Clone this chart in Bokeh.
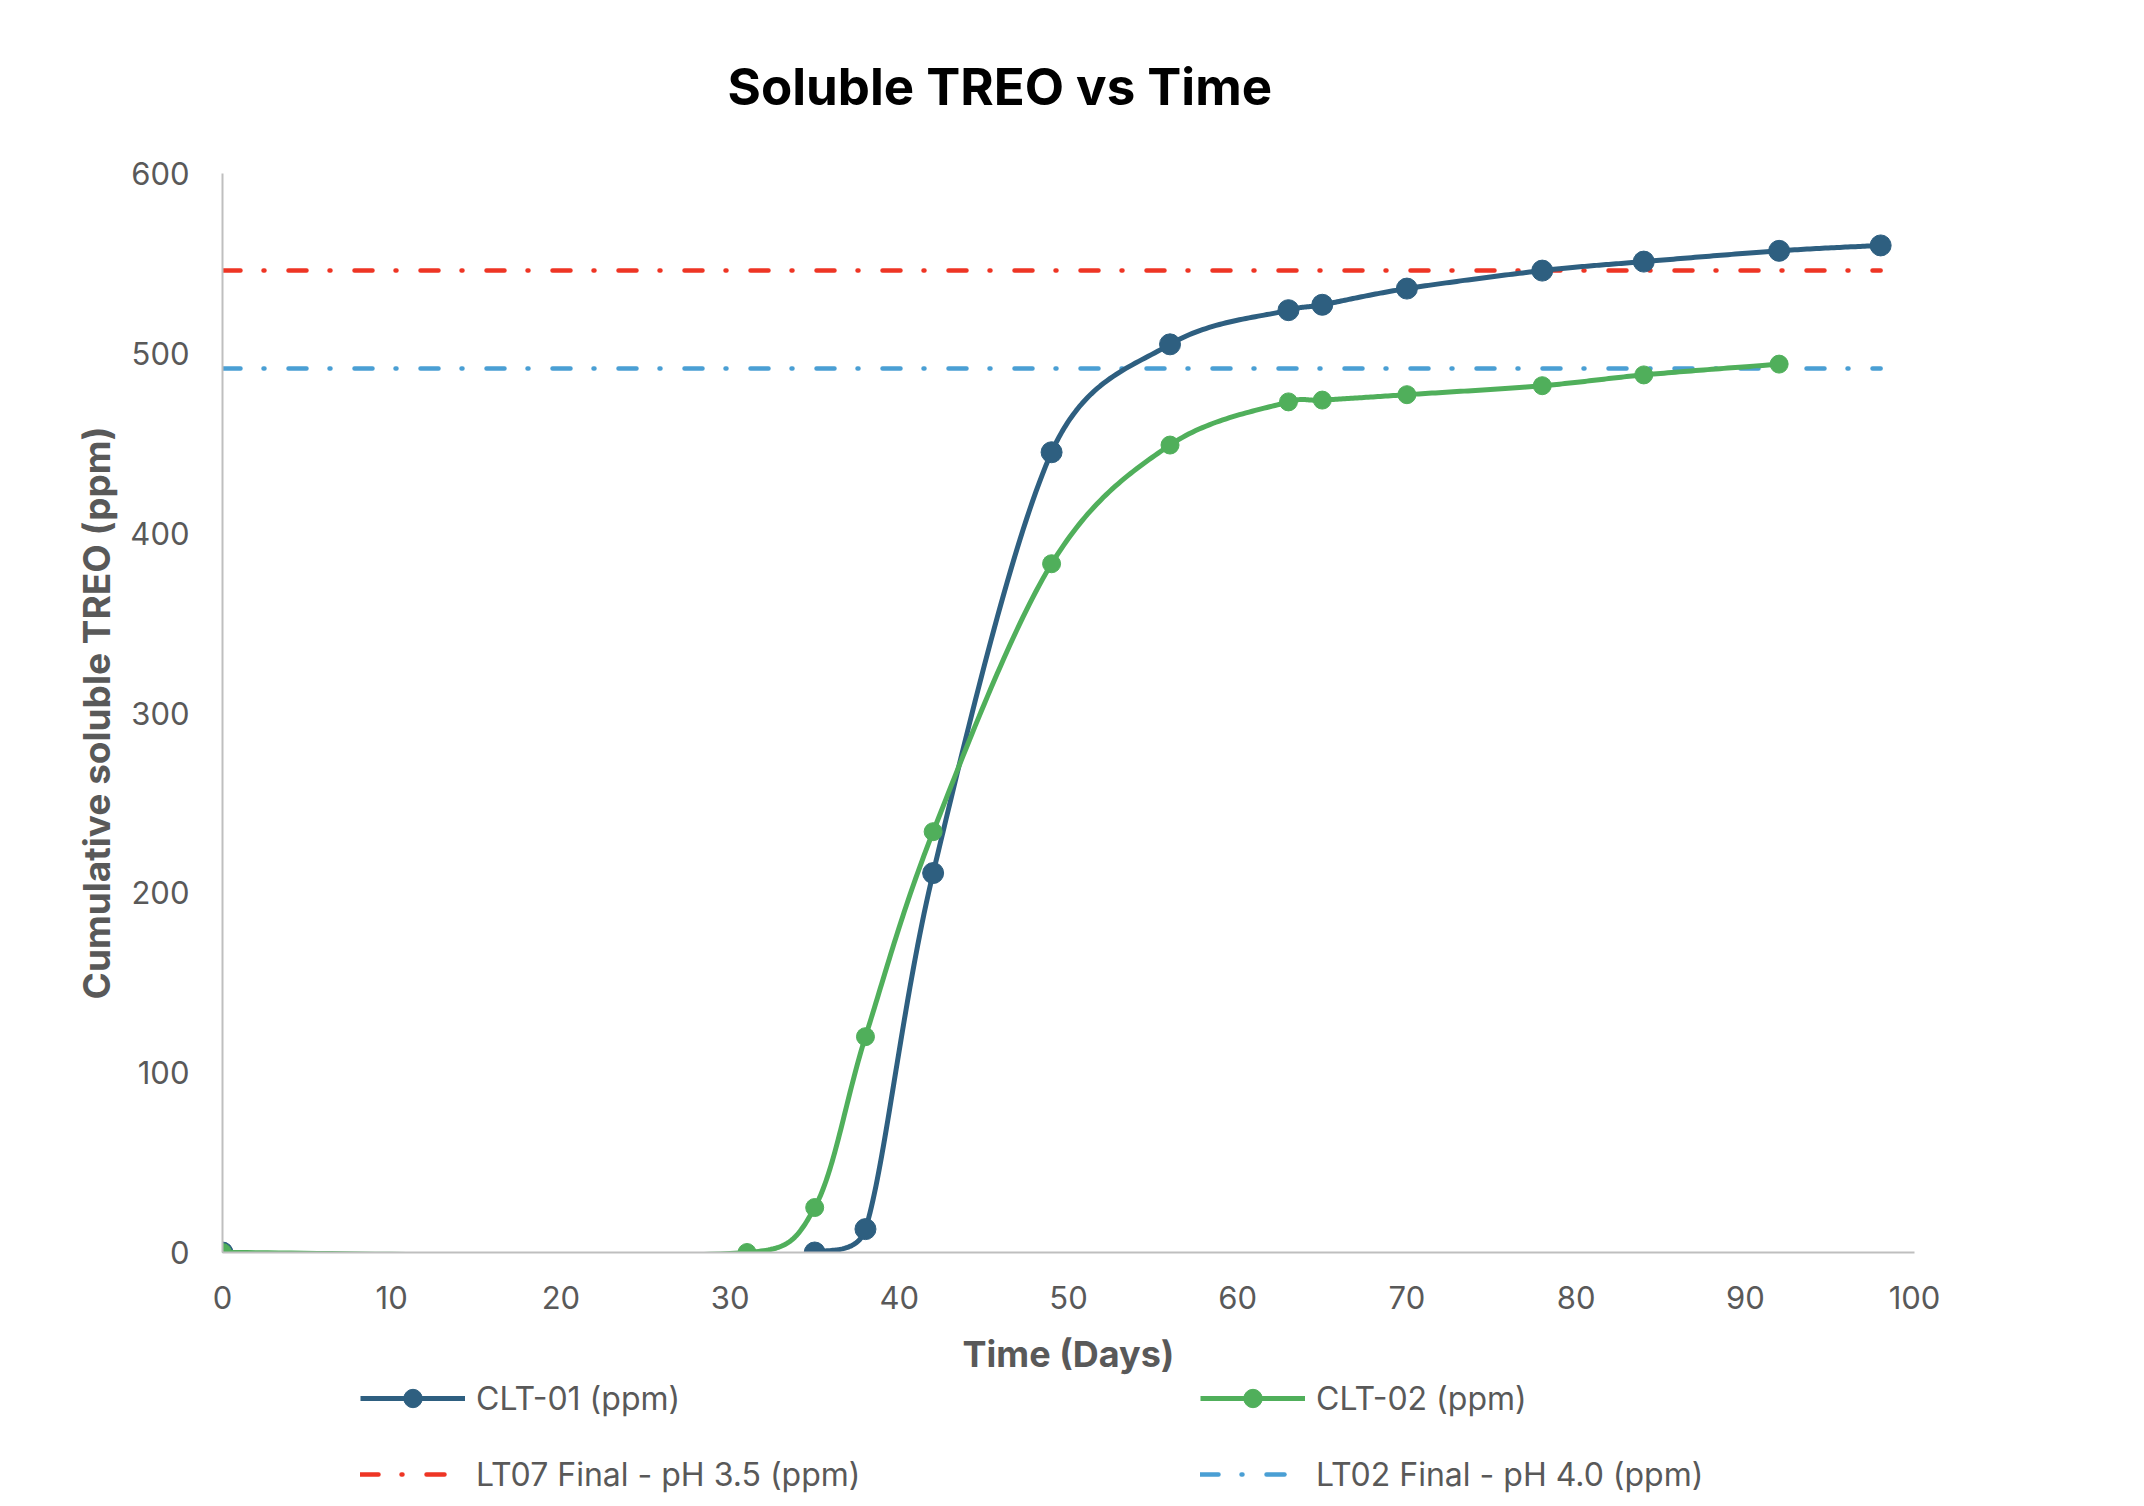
import numpy as np
from bokeh.plotting import figure
from bokeh.layouts import column
from bokeh.models import Range1d, Legend, LegendItem
from bokeh.embed import file_html
from bokeh.resources import INLINE

# Cumulative soluble TREO (ppm) per column test
days_clt01 = [0, 35, 38, 42, 49, 56, 63, 65, 70, 78, 84, 92, 98]
treo_clt01 = [0, 0, 13, 211, 445, 505, 524, 527, 536, 546, 551, 557, 560]
days_clt02 = [0, 31, 35, 38, 42, 49, 56, 63, 65, 70, 78, 84, 92]
treo_clt02 = [0, 0, 25, 120, 234, 383, 449, 473, 474, 477, 482, 488, 494]

# Final values of the reference leach tests
ref_span_days = [0, 98]
lt07_final = 546
lt02_final = 491.5

x_ticks = list(range(0, 101, 10))
y_ticks = list(range(0, 601, 100))

BLUE = "#2E5F80"
GREEN = "#50AF5B"
RED = "#EE3524"
LIGHT_BLUE = "#4A9FD4"
GREY_TEXT = "#595959"
FONT = "Inter"
DASH_DOT = "18 23 1 24"

W, H = 2144, 1506
MAIN_H = 1380                      # chart; the key sits in a strip below it
B_LEFT, B_RIGHT, B_TOP, B_BOTTOM = 222, 230, 171, 128
PX_X = (W - B_LEFT - B_RIGHT) / 100.0
PX_Y = (MAIN_H - B_TOP - B_BOTTOM) / 600.0


def smooth_curve(xs, ys, samples=40):
    """Spreadsheet-style smoothed line: cubic Bezier segments whose control
    handles are limited to half the segment length (computed in pixels)."""
    pts = np.column_stack([np.asarray(xs, float) * PX_X, np.asarray(ys, float) * PX_Y])
    n = len(pts)
    out = [pts[0]]
    f = 1.0 / 6.0
    t = np.linspace(0, 1, samples)[1:, None]
    for i in range(n - 1):
        p0 = pts[i - 1] if i > 0 else pts[i]
        p1 = pts[i]
        p2 = pts[i + 1]
        p3 = pts[i + 2] if i + 2 < n else pts[i + 1]
        d12 = np.linalg.norm(p2 - p1)
        d02 = np.linalg.norm(p2 - p0)
        d13 = np.linalg.norm(p3 - p1)
        f1 = f if d02 / 6 < d12 / 2 else (d12 / (2 * d02) if d02 > 0 else 0)
        f2 = f if d13 / 6 < d12 / 2 else (d12 / (2 * d13) if d13 > 0 else 0)
        c1 = p1 + f1 * (p2 - p0)
        c2 = p2 - f2 * (p3 - p1)
        seg = ((1 - t) ** 3) * p1 + 3 * ((1 - t) ** 2) * t * c1 + 3 * (1 - t) * (t ** 2) * c2 + (t ** 3) * p2
        out.extend(seg)
    out = np.array(out)
    return out[:, 0] / PX_X, out[:, 1] / PX_Y


p = figure(
    width=W, height=MAIN_H,
    x_range=Range1d(0, 100), y_range=Range1d(0, 600),
    output_backend="svg", toolbar_location=None,
    min_border_left=B_LEFT, min_border_right=B_RIGHT,
    min_border_top=B_TOP, min_border_bottom=B_BOTTOM,
    background_fill_color="white", border_fill_color="white",
)
p.outline_line_color = None
p.xgrid.visible = False
p.ygrid.visible = False

# title
p.title.text = "Soluble TREO vs Time"
p.title.align = "left"
p.title.vertical_align = "top"
p.title.offset = 505
p.title.standoff = 110
p.title.text_font = FONT
p.title.text_font_size = "51px"
p.title.text_font_style = "bold"
p.title.text_color = "black"

for ax in (p.xaxis[0], p.yaxis[0]):
    ax.axis_line_color = "#BFBFBF"
    ax.axis_line_width = 2
    ax.major_tick_line_color = None
    ax.minor_tick_line_color = None
    ax.major_label_text_font = FONT
    ax.major_label_text_font_size = "31px"
    ax.major_label_text_color = GREY_TEXT
    ax.axis_label_text_font = FONT
    ax.axis_label_text_font_style = "bold"
    ax.axis_label_text_color = GREY_TEXT

p.xaxis.ticker = x_ticks
p.yaxis.ticker = y_ticks
p.xaxis.axis_label = "Time (Days)"
p.yaxis.axis_label = "Cumulative soluble TREO (ppm)"
p.xaxis.axis_label_text_font_size = "36px"
p.yaxis.axis_label_text_font_size = "37px"
p.xaxis.major_label_standoff = 27
p.xaxis.axis_label_standoff = 20
p.yaxis.major_label_standoff = 27
p.yaxis.axis_label_standoff = 8

# reference lines (dash-dot)
p.line(ref_span_days, [lt07_final, lt07_final], line_color=RED, line_width=4.5,
       line_dash=DASH_DOT, line_cap="round")
p.line(ref_span_days, [lt02_final, lt02_final], line_color=LIGHT_BLUE, line_width=4.5,
       line_dash=DASH_DOT, line_cap="round")

# CLT-01: the smoothed line starts once leaching begins (day 35)
sx1, sy1 = smooth_curve(days_clt01[1:], treo_clt01[1:])
p.line(sx1, sy1, line_color=BLUE, line_width=5, line_join="round", line_cap="round")
p.scatter(days_clt01, treo_clt01, size=21, fill_color=BLUE, line_color=BLUE)

sx2, sy2 = smooth_curve(days_clt02, treo_clt02)
p.line(sx2, sy2, line_color=GREEN, line_width=5, line_join="round", line_cap="round")
p.scatter(days_clt02, treo_clt02, size=18, fill_color=GREEN, line_color=GREEN)

# key strip under the chart; its sample glyphs sit outside the visible range
key = figure(
    width=W, height=H - MAIN_H,
    x_range=Range1d(0, 1), y_range=Range1d(0, 1),
    x_axis_location=None, y_axis_location=None,
    output_backend="svg", toolbar_location=None, min_border=0,
    background_fill_color="white", border_fill_color="white",
)
key.outline_line_color = None
key.xgrid.visible = False
key.ygrid.visible = False

off = [5, 6]
k_clt01 = [key.line(off, off, line_color=BLUE, line_width=5),
           key.scatter(off, off, fill_color=BLUE, line_color=BLUE)]
k_clt02 = [key.line(off, off, line_color=GREEN, line_width=5),
           key.scatter(off, off, fill_color=GREEN, line_color=GREEN)]
k_lt07 = [key.line(off, off, line_color=RED, line_width=4.5, line_dash=DASH_DOT, line_cap="round")]
k_lt02 = [key.line(off, off, line_color=LIGHT_BLUE, line_width=4.5, line_dash=DASH_DOT, line_cap="round")]


def make_legend(items, x):
    lg = Legend(items=items, location=(x, 9), orientation="vertical")
    lg.border_line_color = None
    lg.background_fill_alpha = 0
    lg.padding = 0
    lg.margin = 0
    lg.spacing = 30
    lg.glyph_width = 105
    lg.glyph_height = 46
    lg.label_height = 46
    lg.label_standoff = 11
    lg.label_text_font = FONT
    lg.label_text_font_size = "32px"
    lg.label_text_color = GREY_TEXT
    return lg


key.add_layout(make_legend([
    LegendItem(label="CLT-01 (ppm)", renderers=k_clt01),
    LegendItem(label="LT07 Final - pH 3.5 (ppm)", renderers=k_lt07),
], 138))
key.add_layout(make_legend([
    LegendItem(label="CLT-02 (ppm)", renderers=k_clt02),
    LegendItem(label="LT02 Final - pH 4.0 (ppm)", renderers=k_lt02),
], 978))

open("out.html", "w").write(file_html(column(p, key), INLINE))
